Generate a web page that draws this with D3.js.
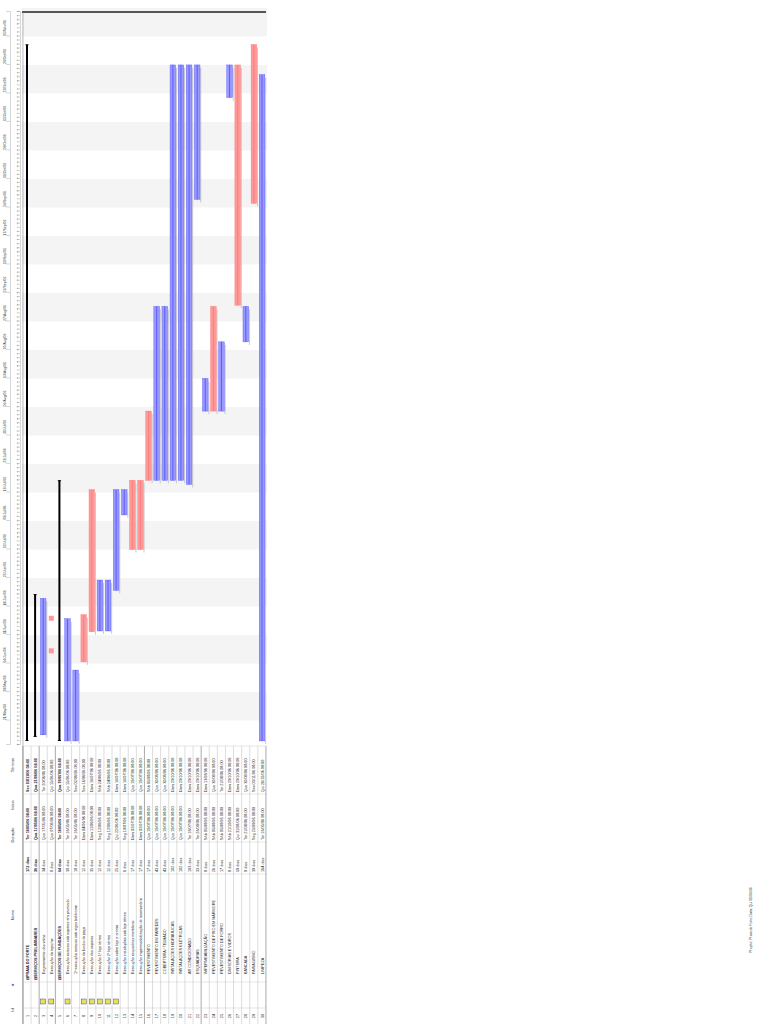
<!DOCTYPE html>
<html><head><meta charset="utf-8">
<script src="https://cdn.jsdelivr.net/npm/d3@7"></script>
<style>body{margin:0;background:#fff}svg{display:block;font-family:"Liberation Sans",Arial,sans-serif}</style>
</head><body><svg id="c" width="768" height="1024"></svg>
<script>
const ids = d3.range(1,31);
const names = ["PRAIA DO FORTE","SERVIÇOS PRELIMINARES","Esgotamento das valas","Execução do tapume","SERVIÇOS DE FUNDAÇÕES","Execução estacas sob sapatas em prumada","1ª execução estacas sob vigas baldrame","Execução do fundo do poço","Execução das sapatas","Execução 1ª laje térrea","Execução 2ª laje térrea","Execução sobre laje e arrimo","Execução instalações sob laje térrea","Execução esquadrias metálicas","Execução impermeabilização de reservatório","REVESTIMENTO","REVESTIMENTO EM PAREDES","COBERTURA / TELHADO","INSTALAÇÕES HIDRÁULICAS","INSTALAÇÕES ELÉTRICAS","AR CONDICIONADO","ESQUADRIAS","IMPERMEABILIZAÇÃO","REVESTIMENTO DE PISO EM MÁRMORE","REVESTIMENTO DE FORRO","DIVISÓRIAS E VIDROS","PINTURA","BANCADA","PAISAGISMO","LIMPEZA"];
const kinds = ["S","S","T","M","S","T","T","C","C","T","T","T","T","C","C","C","T","T","T","T","T","T","T","C","T","T","C","T","C","T"];
const startDay = [1,2,2.5,23,1,1,1,20.4,27.8,28,28,38,56.5,48,48,65,65,65,65,65,64,134,82,82,82,159,108,99,133,1];
const endDay   = [172,37,36,31,65,31,18.4,32,62.7,40.5,40.5,62.7,62.7,65,65,82,107.7,107.7,167,167,167,167,90,107.7,99,167,167,107.7,172,164.6];
const durLabels = ["172 dias","36 dias","34 dias","8 dias","64 dias","30 dias","18 dias","12 dias","35 dias","12 dias","12 dias","25 dias","6 dias","17 dias","17 dias","17 dias","43 dias","43 dias","102 dias","102 dias","103 dias","33 dias","8 dias","26 dias","17 dias","8 dias","59 dias","9 dias","39 dias","164 dias"];
const headers = ["Id","","Nome","Duração","Início","Término"];
const baseDate = new Date(2006,4,15);

const svg = d3.select("#c");
// unrotated frame: u along page (bottom->top), v along page x
const g = svg.append("g").attr("transform","translate(0,1024) rotate(-90)");
const day = d => d3.timeDay.offset(baseDate, Math.floor(d));
const fmt = d3.timeFormat("%d/%m/%y");
const wd = ["Dom","Seg","Ter","Qua","Qui","Sex","Sáb"];
const fdate = d => wd[d.getDay()]+" "+fmt(d)+" 08:00";

const rowV = d3.scaleLinear().domain([1,30]).range([27,262]);
const rowH = 8.1;
const u = d3.scaleLinear().domain([0,180]).range([279,1012]);
const t = d3.scaleTime().domain([baseDate, d3.timeDay.offset(baseDate,180)]).range([279,1012]);

// weekly stripes
const weeks = d3.timeWeek.range(baseDate, d3.timeDay.offset(baseDate,180));
g.selectAll(".wk").data(weeks.filter((d,i)=>i%2==0)).join("rect")
 .attr("x",d=>t(d)).attr("width",d=>t(d3.timeDay.offset(d,7))-t(d))
 .attr("y",22).attr("height",245).attr("fill","#f4f4f4");

// top line
g.append("line").attr("x1",1012).attr("x2",1012).attr("y1",22).attr("y2",266).attr("stroke","#555").attr("stroke-width",2);

// time scale header
const ax1 = d3.axisTop(t).ticks(d3.timeWeek.every(1)).tickSize(4).tickFormat(d3.timeFormat("%d/%b/%y"));
const a1 = g.append("g").attr("transform","translate(0,10)").call(ax1);
const ax2 = d3.axisTop(t).ticks(d3.timeDay.every(1)).tickSize(3).tickFormat(d=>"DSTQQSS"[d.getDay()]);
const a2 = g.append("g").attr("transform","translate(0,20)").call(ax2);
[a1,a2].forEach(a=>{a.selectAll("text").attr("font-size",3.5).attr("fill","#333");a.selectAll("line,path").attr("stroke","#999").attr("stroke-width",0.4);});
a1.selectAll("text").attr("dy",2.5).attr("dx",8);
a2.selectAll("text").attr("dy",4).attr("font-size",2.5);

// table
const cols = [1012-1012, 0]; // placeholder
const colU = {id:[0,16], ic:[16,42], name:[42,150], dur:[150,182], ini:[182,230], ter:[230,278]};
// table header
const keys=["id","ic","name","dur","ini","ter"];
keys.forEach((k,i)=>{
  g.append("text").attr("x",1024-[1010,985,915,835,805,765][i]).attr("y",14).attr("font-size",4).attr("fill","#333").attr("text-anchor","middle").text(headers[i]);
});
g.append("text").attr("x",1024-985).attr("y",14).attr("font-size",5).attr("fill","#6a6aaa").attr("text-anchor","middle").text("●");
// row lines
g.selectAll(".rl").data(d3.range(0,31)).join("line")
 .attr("x1",0).attr("x2",278).attr("y1",d=>rowV(1)-rowH/2+d*rowH).attr("y2",d=>rowV(1)-rowH/2+d*rowH)
 .attr("stroke",(d)=>[0,2,4,15,22,30].includes(d)?"#555":"#bbb").attr("stroke-width",0.5);
[16,42,150,182,230,278].forEach(x=>g.append("line").attr("x1",x).attr("x2",x).attr("y1",rowV(1)-rowH/2).attr("y2",rowV(30)+rowH/2).attr("stroke","#bbb").attr("stroke-width",0.4));
g.append("line").attr("x1",0).attr("x2",1012).attr("y1",rowV(1)-rowH/2).attr("y2",rowV(1)-rowH/2).attr("stroke","#777").attr("stroke-width",0.5);

const rows = g.selectAll(".row").data(ids).join("g").attr("transform",d=>`translate(0,${rowV(d)+1.5})`)
 .attr("font-size",3.8).attr("fill","#222");
rows.append("text").attr("x",8).attr("text-anchor","middle").text(d=>d);
rows.append("text").attr("x",d=>kinds[d-1]=="S"?44:50).attr("font-weight",d=>kinds[d-1]=="S"?"bold":null).text(d=>(kinds[d-1]=="S"?"⊟":"")+names[d-1]);
rows.append("text").attr("x",152).attr("font-weight",d=>kinds[d-1]=="S"?"bold":null).text(d=>durLabels[d-1]);
rows.append("text").attr("x",184).attr("font-weight",d=>kinds[d-1]=="S"?"bold":null).text(d=>fdate(day(startDay[d-1])));
rows.append("text").attr("x",232).attr("font-weight",d=>kinds[d-1]=="S"?"bold":null).text(d=>fdate(day(endDay[d-1])));
// indicator icons
g.selectAll(".ico").data([3,4,6,8,9,10,11,12]).join("rect")
 .attr("x",20).attr("y",d=>rowV(d)-2.5).attr("width",5).attr("height",5).attr("fill","#e8e05a").attr("stroke","#333").attr("stroke-width",0.4);

// bars
ids.forEach(i=>{
  const k=kinds[i-1], v=rowV(i), s=u(startDay[i-1]), e=u(endDay[i-1]);
  if(k=="S"){
    g.append("rect").attr("x",s).attr("width",e-s).attr("y",v-1).attr("height",2).attr("fill","#000");
    g.append("path").attr("d",`M${s},${v-2}l0,4l2,-2zM${e},${v-2}l0,4l-2,-2z`).attr("fill","#000");
  } else if(k=="M"){
    [startDay[i-1],endDay[i-1]].forEach(dd=>g.append("rect").attr("x",u(dd)-2).attr("width",5).attr("y",v-2.5).attr("height",5).attr("fill","#ff9999"));
  } else {
    g.append("line").attr("x1",s-3).attr("x2",e-3).attr("y1",v+3.6).attr("y2",v+3.6).attr("stroke","#bbb").attr("stroke-width",0.8);
    g.append("rect").attr("x",s).attr("width",e-s).attr("y",v-2.8).attr("height",5.6)
     .attr("fill",k=="C"?"#ff9999":"#9999ff").attr("stroke",k=="C"?"#ff7777":"#5555ff").attr("stroke-width",0.4);
    g.append("line").attr("x1",s).attr("x2",e).attr("y1",v).attr("y2",v).attr("stroke",k=="C"?"#ee6666":"#2222ee").attr("stroke-width",0.5);
  }
});

// footer
g.append("text").attr("x",1024-920).attr("y",752).attr("font-size",3.5).attr("fill","#333").attr("text-anchor","middle").text("Projeto: Praia do Forte   Data: Qui 01/06/06");
</script></body></html>
